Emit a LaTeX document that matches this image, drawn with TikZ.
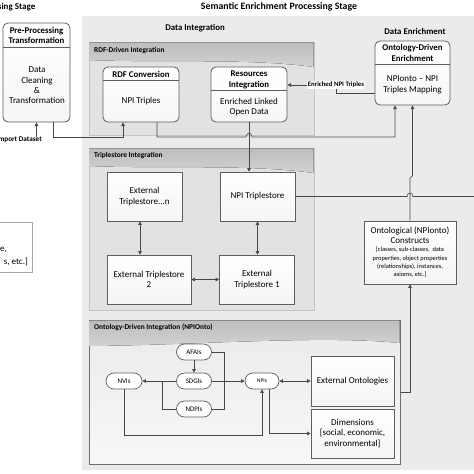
\documentclass[tikz,border=0pt]{standalone}
\usepackage{fontspec}
\setmainfont{Carlito}
\usetikzlibrary{arrows.meta,shapes.misc}
\definecolor{stagebg}{HTML}{EBEBEB}
\definecolor{panelbg}{HTML}{E2E2E2}
\definecolor{panelln}{HTML}{C4C4C4}
\definecolor{bandtop}{HTML}{BDBDBD}
\definecolor{bandbot}{HTML}{D2D2D2}
\definecolor{linec}{HTML}{474747}
\definecolor{boxline}{HTML}{5E5E5E}
\definecolor{onpanelln}{HTML}{6E6E6E}
\newcommand\szTitle{\bfseries\fontsize{9.8}{11}\selectfont}
\newcommand\szSec{\bfseries\fontsize{8.8}{10}\selectfont}
\newcommand\szHdr{\bfseries\fontsize{8.8}{10.8}\selectfont}
\newcommand\szBody{\fontsize{9}{10.3}\selectfont}
\newcommand\szPanel{\bfseries\fontsize{7.4}{8}\selectfont}
\newcommand\szPill{\fontsize{7}{8}\selectfont}
\newcommand\szSmall{\fontsize{6.4}{8.3}\selectfont}
\newcommand\szLbl{\bfseries\fontsize{6.8}{7}\selectfont}
\begin{document}
\begin{tikzpicture}[x=1pt,y=-1pt,
  tri/.tip={Triangle[length=3.6pt,width=3.6pt]},
  conn/.style={draw=linec, line width=0.6pt},
  hbox/.style={draw=boxline, line width=0.8pt, rounded corners=5pt, top color=white, bottom color=gray!7, inner sep=0pt},
  pbox/.style={draw=boxline, line width=0.7pt, top color=white, bottom color=gray!8, inner sep=0pt, font=\szBody, align=center},
  divline/.style={draw=boxline, line width=0.7pt},
  hdrtxt/.style={font=\szHdr, align=center, inner sep=0pt},
  bodytxt/.style={font=\szBody, align=center, inner sep=0pt},
  panel/.style={fill=panelbg, draw=panelln, line width=0.6pt, inner sep=0pt, anchor=north west},
  band/.style={top color=bandtop, bottom color=bandbot, draw=none},
  ptitle/.style={font=\szPanel, anchor=west, inner sep=0pt},
  pill/.style={rounded rectangle, draw=boxline, line width=0.7pt, fill=white, minimum width=37pt, minimum height=16pt, inner sep=1pt, font=\szPill},
  lbl/.style={font=\szLbl, fill=white, inner sep=1pt}
]
\useasboundingbox (0,0) rectangle (474,474);
\clip (0,0) rectangle (474,474);
\fill[white] (0,0) rectangle (474,474);

% stage titles
\node[font=\bfseries\fontsize{9}{11}\selectfont, anchor=east, inner sep=0pt] (prestage) at (35.5,7) {Pre-Processing Stage};
\node[font=\szTitle, inner sep=0pt] (semstage) at (279,7) {Semantic Enrichment Processing Stage};

% semantic stage background
\node[fill=stagebg, inner sep=0pt, minimum width=400pt, minimum height=454pt, anchor=north west] (stagebox) at (82,16) {};
\node[font=\szSec, inner sep=0pt] (dilbl) at (195,28) {Data Integration};
\node[font=\szSec, inner sep=0pt] (delbl) at (415,31) {Data Enrichment};

% pre-processing box
\node[hbox, minimum width=67pt, minimum height=99pt] (pre) at (36.5,72.5) {};
\draw[divline] ([yshift=-25pt]pre.north west) -- ([yshift=-25pt]pre.north east);
\node[hdrtxt] (prehdr) at (36.5,35.5) {Pre-Processing\\Transformation};
\node[bodytxt] (prebody) at (37,85.5) {Data\\Cleaning\\\&\\Transformation};
\node[font=\bfseries\fontsize{7.2}{8}\selectfont, anchor=east, inner sep=0pt] (imp) at (42,140) {Import Dataset};

% left partial box
\node[draw=gray!70, line width=0.7pt, fill=white, minimum width=52pt, minimum height=50pt, inner sep=0pt] (leftbox) at (6,247) {};
\node[bodytxt, anchor=east] (lefttxt1) at (7,250) {e,};
\node[bodytxt, anchor=east] (lefttxt2) at (28,262) {s, etc.]};

% RDF-driven integration panel
\node[panel, minimum width=225pt, minimum height=93pt] (rdfpanel) at (89,42) {};
\fill[band] (89.3,42.3) -- (313.7,42.3) -- (313.7,67) .. controls (250,58) and (160,63) .. (89.3,60) -- cycle;
\node[ptitle] (rdfttl) at (94,51) {RDF-Driven Integration};

\node[hbox, minimum width=76pt, minimum height=55pt] (rdf) at (141,94.5) {};
\draw[divline] ([yshift=-14pt]rdf.north west) -- ([yshift=-14pt]rdf.north east);
\node[hdrtxt] (rdfhdr) at (141,74) {RDF Conversion};
\node[bodytxt] (rdfbody) at (141,101) {NPI Triples};

\node[hbox, minimum width=76pt, minimum height=55pt] (res) at (249,94.5) {};
\draw[divline] ([yshift=-24pt]res.north west) -- ([yshift=-24pt]res.north east);
\node[hdrtxt] (reshdr) at (249,79.5) {Resources\\Integration};
\node[bodytxt] (resbody) at (249,107) {Enriched Linked\\Open Data};

% ontology-driven enrichment
\node[hbox, minimum width=75pt, minimum height=64pt] (ont) at (412.5,73) {};
\draw[divline] ([yshift=-24pt]ont.north west) -- ([yshift=-24pt]ont.north east);
\node[hdrtxt] (onthdr) at (412.5,53) {Ontology-Driven\\Enrichment};
\node[bodytxt] (ontbody) at (412.5,85) {NPIonto – NPI\\Triples Mapping};

% triplestore integration panel
\node[panel, minimum width=225pt, minimum height=162pt] (tspanel) at (89,148) {};
\fill[band] (89.3,148.3) -- (313.7,148.3) -- (313.7,173) .. controls (250,164) and (160,169) .. (89.3,166) -- cycle;
\node[ptitle] (tsttl) at (94,156) {Triplestore Integration};

\node[pbox, minimum width=75pt, minimum height=49pt] (extn) at (144.5,196.5) {External\\Triplestore...n};
\node[pbox, minimum width=75pt, minimum height=49pt] (npit) at (257.5,196.5) {NPI Triplestore};
\node[pbox, minimum width=84pt, minimum height=49pt] (ext2) at (149,279.5) {External Triplestore\\2};
\node[pbox, minimum width=75pt, minimum height=49pt] (ext1) at (257,279.5) {External\\Triplestore 1};

% ontological constructs
\node[pbox, minimum width=92pt, minimum height=63pt] (cons) at (410,252.5) {};
\node[bodytxt] (conshdr) at (410,235) {Ontological (NPIonto)\\Constructs};
\node[font=\szSmall, align=center, inner sep=0pt] (conssm) at (410,262.5) {{[}classes, sub-classes,\ \ data\\properties, object properties\\(relationships), instances,\\axioms, etc.{]}};

% ontology-driven integration panel
\node[panel, draw=onpanelln, top color=gray!16, bottom color=gray!6, minimum width=311pt, minimum height=144pt] (onpanel) at (89,320) {};
\fill[band] (89.4,320.4) -- (399.6,320.4) -- (399.6,343) .. controls (320,335) and (200,345) .. (89.4,346) -- cycle;
\node[ptitle] (onttl) at (94,327) {Ontology-Driven Integration (NPIOnto)};

\node[pill] (afai) at (194,352) {AFAIs};
\node[pill] (sdgi) at (194,381) {SDGIs};
\node[pill] (ndpi) at (194,409) {NDPIs};
\node[pill, minimum width=38pt] (nvi) at (124,381) {NVIs};
\node[pill, minimum width=36pt, font=\fontsize{5.6}{6}\selectfont] (npi) at (262,381) {NPIs};
\node[pbox, minimum width=83pt, minimum height=50pt] (exto) at (352.5,381) {External Ontologies};
\node[pbox, minimum width=83pt, minimum height=49pt] (dims) at (352.5,433.5) {Dimensions\\{[}social, economic,\\environmental{]}};

% ---- connectors ----
\draw[conn,-tri] (pre.south |- imp.north) -- (pre.south);
\draw[conn,-tri] ([xshift=16.5pt]pre.south) -- ++(0,15) -| ([xshift=-18pt]rdf.south);
\draw[conn,-tri] ([xshift=16pt]rdf.south) -- (157,137) -- (246,137) .. controls (246,132) and (252,132) .. (252,137) -- (395,137) -- ([xshift=-17.5pt]ont.south);
\draw[conn,-tri] (res.south) -- (res.south |- npit.north);
\node[lbl] (enr) at (336,85) {Enriched NPI Triples};
\draw[conn] ([yshift=-20pt]ont.west) -| (enr.south);
\draw[conn,-tri] (enr.west) -- (enr.west -| res.east);
\draw[conn,-tri] (cons.north) -- (410,178) -- (412.5,176) -- (ont.south);
\coordinate (redge) at (480,196.5);
\draw[conn] (npit.east) -- (407,196.5) .. controls (407,192) and (413,192) .. (413,196.5) -- (redge);
\draw[conn,-tri] (onpanel.east) -| (cons.south);

\coordinate (ena) at ([xshift=-4.5pt]extn.south);
\draw[conn,tri-tri] (ena) -- (ena |- ext2.north);
\draw[conn,tri-tri] (npit.south) -- (npit.south |- ext1.north);
\draw[conn,tri-tri] (ext2.east) -- (ext1.west);

\draw[conn,-tri] (afai.south) -- (sdgi.north);
\draw[conn,-tri] (sdgi.west) -- (nvi.east);
\coordinate (jn) at (162,381);
\draw[conn] (ndpi.west) -| (jn);
\draw[conn] (afai.east) -- (224,352) |- (ndpi.east);
\draw[conn,-tri] (sdgi.east) -- (npi.west);
\draw[conn,-tri] (nvi.south) -- ++(0,46) -| (npi.south);
\draw[conn,-tri] ([xshift=7pt]npi.south) |- (dims.west);
\draw[conn,tri-tri] (npi.east) -- (exto.west);
\end{tikzpicture}
\end{document}
